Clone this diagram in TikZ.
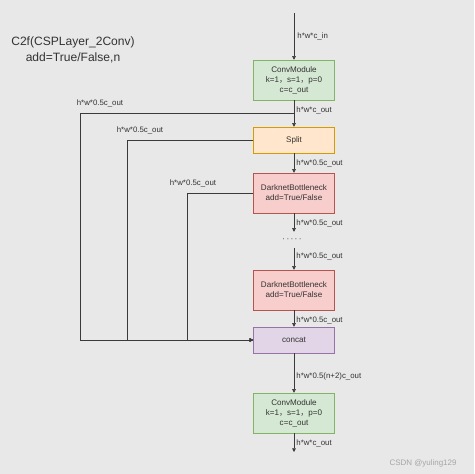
\documentclass[tikz,border=0pt]{standalone}
\usepackage{fontspec}
\setmainfont{Liberation Sans}
\newfontfamily\cjk{Noto Sans CJK SC}
\usetikzlibrary{arrows.meta}
\definecolor{bg}{HTML}{E8E8E8}
\definecolor{txt}{HTML}{333333}
\definecolor{ln}{HTML}{3A3A3A}
\definecolor{convfill}{HTML}{D5E8D4}
\definecolor{convdraw}{HTML}{82B366}
\definecolor{splitfill}{HTML}{FFE6CC}
\definecolor{splitdraw}{HTML}{D79B00}
\definecolor{darkfill}{HTML}{F8CECC}
\definecolor{darkdraw}{HTML}{B85450}
\definecolor{catfill}{HTML}{E1D5E7}
\definecolor{catdraw}{HTML}{9673A6}
\newcommand{\zc}{{\cjk ，}}
\begin{document}
\begin{tikzpicture}[x=0.3mm,y=-0.3mm,
  box/.style={draw,minimum width=24.3mm,minimum height=12mm,align=center,
    text=txt,font=\fontsize{6.9}{8.6}\selectfont},
  flat/.style={box,minimum height=7.8mm},
  arr/.style={draw=ln,line width=0.5pt,-{Triangle[length=3.2pt,width=3.2pt]}},
  lbl/.style={anchor=west,inner sep=1pt,text=txt,font=\fontsize{6.7}{7.5}\selectfont},
  side/.style={text=txt,font=\fontsize{6.7}{7.5}\selectfont}]
  \fill[bg] (0,0) rectangle (474,474);
  \useasboundingbox (0,0) rectangle (474,474);
  % title
  \node[align=center,text=txt,font=\fontsize{10.3}{13}\selectfont] (title) at (73,50)
    {C2f(CSPLayer\_2Conv)\\add=True/False,n};
  % main column
  \node[box,fill=convfill,draw=convdraw] (conv1) at (294,80)
    {ConvModule\\k=1\zc s=1\zc p=0\\c=c\_out};
  \node[flat,fill=splitfill,draw=splitdraw] (split) at (294,140) {Split};
  \node[box,fill=darkfill,draw=darkdraw] (dark1) at (294,193)
    {DarknetBottleneck\\add=True/False};
  \node[inner sep=0pt,minimum height=4.8mm,text=txt,font=\fontsize{7}{8}\selectfont] (dots) at (292,240)
    {·\,·\,·\,·\,·};
  \node[box,fill=darkfill,draw=darkdraw] (dark2) at (294,290)
    {DarknetBottleneck\\add=True/False};
  \node[flat,fill=catfill,draw=catdraw] (concat) at (294,340) {concat};
  \node[box,fill=convfill,draw=convdraw] (conv2) at (294,413)
    {ConvModule\\k=1\zc s=1\zc p=0\\c=c\_out};
  \coordinate (in) at (294,13);
  \coordinate (out) at (294,452);
  \draw[arr] (in) -- (conv1);
  \draw[arr] (conv1) -- (split);
  \draw[arr] (split) -- (dark1);
  \draw[arr] (dark1) -- (dark1 |- dots.north);
  \draw[arr] (dark2 |- dots.south) -- (dark2);
  \draw[arr] (dark2) -- (concat);
  \draw[arr] (concat) -- (conv2);
  \draw[arr] (conv2) -- (out);
  \node[lbl] (lin) at (296,36) {h*w*c\_in};
  \node[lbl] (l1) at (295,110) {h*w*c\_out};
  \node[lbl] (l2) at (295,163) {h*w*0.5c\_out};
  \node[lbl] (l3) at (295,223) {h*w*0.5c\_out};
  \node[lbl] (l4) at (295,256) {h*w*0.5c\_out};
  \node[lbl] (l5) at (295,320) {h*w*0.5c\_out};
  \node[lbl] (l6) at (295,376) {h*w*0.5(n+2)c\_out};
  \node[lbl] (l7) at (295,443) {h*w*c\_out};
  % branches into concat
  \coordinate (tap) at (294,113);
  \coordinate (c1) at (80,113);
  \coordinate (c2) at (127,140);
  \coordinate (c3) at (187,193);
  \draw[arr] (tap) -- (c1) |- (concat.west);
  \draw[arr] (split.west) -- (c2) |- (concat.west);
  \draw[arr] (dark1.west) -- (c3) |- (concat.west);
  \node[side] (b1) at (100,103) {h*w*0.5c\_out};
  \node[side] (b2) at (140,130) {h*w*0.5c\_out};
  \node[side] (b3) at (193,183) {h*w*0.5c\_out};
  % watermark
  \node[text=black!35,font=\fontsize{6.8}{7}\selectfont] (mark) at (423,463) {CSDN @yuling129};
\end{tikzpicture}
\end{document}
